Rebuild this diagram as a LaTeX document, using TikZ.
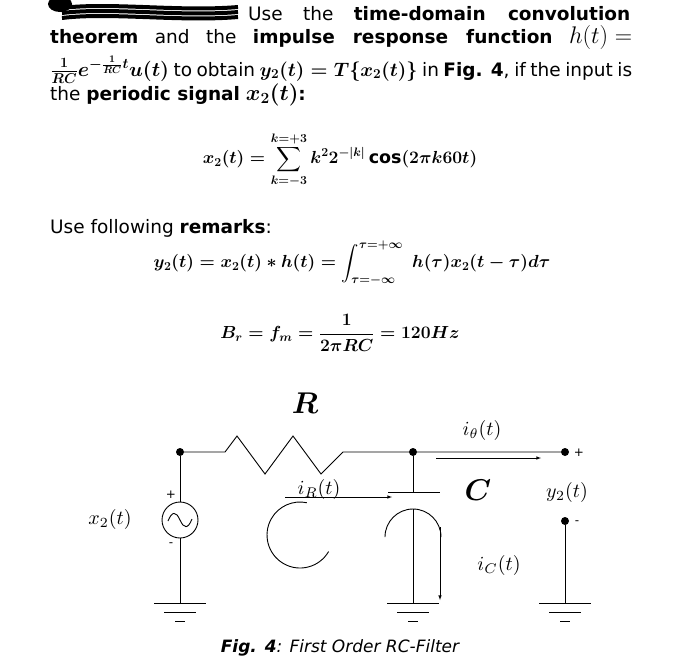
\RequirePackage{fix-cm}
\documentclass[tikz,border=0pt]{standalone}
\usepackage{amsmath}
\usepackage{fontspec}
\setmainfont{DejaVu Sans}
\newcommand\scm[2][2]{\scalebox{#1}{$#2$}}
\begin{document}
\begin{tikzpicture}[x=1pt,y=-1pt,
  wire/.style={line width=0.9pt},
  dot/.style={circle,fill=black,inner sep=0pt,minimum size=8pt},
  lbl/.style={inner sep=0pt},
  pline/.style={anchor=base west,inner sep=0pt,font=\fontsize{18.5}{23}\selectfont},
  eq/.style={inner sep=0pt,font=\fontsize{17.5}{20}\selectfont}]
\useasboundingbox (0,0) rectangle (700,662);
% redaction scribble
\foreach \yy in {8,13,18}{\draw[line width=4pt] (62,\yy) .. controls (110,\yy-6) and (180,\yy+4) .. (238,\yy-1);}
\fill (60,4) ellipse (12pt and 8pt);
% paragraph
\node[pline] (l1) at (248,20) {\makebox[382pt][s]{Use the \textbf{time-domain convolution}}};
\node[pline] (l2) at (50,43) {\makebox[582pt][s]{\textbf{theorem} and the \textbf{impulse response function} \scm[1.3]{h(t)=}}};
\node[pline] (l3) at (50,76) {\makebox[582pt][s]{\scm[1.1]{\boldsymbol{\frac{1}{RC}e^{-\frac{1}{RC}t}u(t)}} to obtain \scm[1.05]{\boldsymbol{y_2(t)=T\{x_2(t)\}}} in \textbf{Fig. 4}, if the input is}};
\node[pline] (l4) at (50,100) {the \textbf{periodic signal} \scm[1.2]{\boldsymbol{x_2(t)}}\textbf{:}};
\node[eq] (sum) at (340,160) {$\boldsymbol{x_2(t)=\displaystyle\sum_{k=-3}^{k=+3}k^2 2^{-|k|}\cos(2\pi k60t)}$};
\node[anchor=west,inner sep=0pt,font=\fontsize{18.5}{23}\selectfont] (rem) at (50,228) {Use following \textbf{remarks}:};
\node[eq] (conv) at (352,263) {$\boldsymbol{y_2(t)=x_2(t)*h(t)=\displaystyle\int_{\tau=-\infty}^{\tau=+\infty}\;h(\tau)x_2(t-\tau)d\tau}$};
\node[eq] (bw) at (340,333) {$\boldsymbol{B_r=f_m=\dfrac{1}{2\pi RC}=120Hz}$};
% circuit
\node[inner sep=0pt] (R) at (305,403) {\scm[3]{\boldsymbol{R}}};
\node[dot] (n1) at (180,452) {};
\node[dot] (n2) at (413,452) {};
\node[dot] (n3) at (565,452) {};
\node[dot] (n4) at (565,521) {};
\draw[wire] (n1) -- (225,452) -- (237,436) -- (265,474) -- (293,436) -- (321,474) -- (343,452) -- (n2) -- (n3);
\node[circle,draw,line width=0.9pt,minimum size=36pt,inner sep=0pt] (src) at (180,520) {};
\draw[wire] (168,521) .. controls (172,511) and (176,511) .. (180,520) .. controls (184,529) and (188,529) .. (192,519);
\draw[wire] (n1) -- (src.north);
\draw[wire] (src.south) -- (180,603);
\draw[wire] (n2) -- (413,492);
\draw[wire] (388,492) -- (440,492);
\draw[wire] (385,537) arc (180:360:28);
\draw[wire] (413,509) -- (413,603);
\draw[wire] (n4) -- (565,603);
\foreach \xx in {180,413,565}{
 \draw[line width=0.8pt] (\xx-26,603) -- (\xx+26,603);
 \draw[line width=0.8pt] (\xx-16,612) -- (\xx+16,612);
 \draw[line width=0.8pt] (\xx-5,621) -- (\xx+5,621);}
\node[font=\large] (pl) at (171,495) {+};
\node[font=\large] (mi) at (171,545) {-};
\node[font=\large] (p2) at (579,453) {+};
\node[font=\large] (m2) at (577,523) {-};
\node[lbl] (x2) at (110,519) {\scm{x_2(t)}};
\node[lbl] (io) at (482,430) {\scm{i_\theta(t)}};
\draw[-latex,line width=0.6pt] (436,458) -- (541,458);
\node[lbl] (ir) at (319,489) {\scm{i_R(t)}};
\draw[-latex,line width=0.6pt] (285,497) -- (392,497);
\draw[line width=0.9pt] (328.6,551.5) arc (30:282:33);
\node[inner sep=0pt] (C) at (478,490) {\scm[3]{\boldsymbol{C}}};
\node[lbl] (y2) at (567,492) {\scm{y_2(t)}};
\draw[-latex,line width=0.6pt] (440,527) -- (440,600);
\node[lbl] (ic) at (499,565) {\scm{i_C(t)}};
\node[font=\fontsize{17}{20}\selectfont\itshape,inner sep=0pt] (cap) at (340,648) {\textbf{Fig. 4}: First Order RC-Filter};
\end{tikzpicture}
\end{document}
